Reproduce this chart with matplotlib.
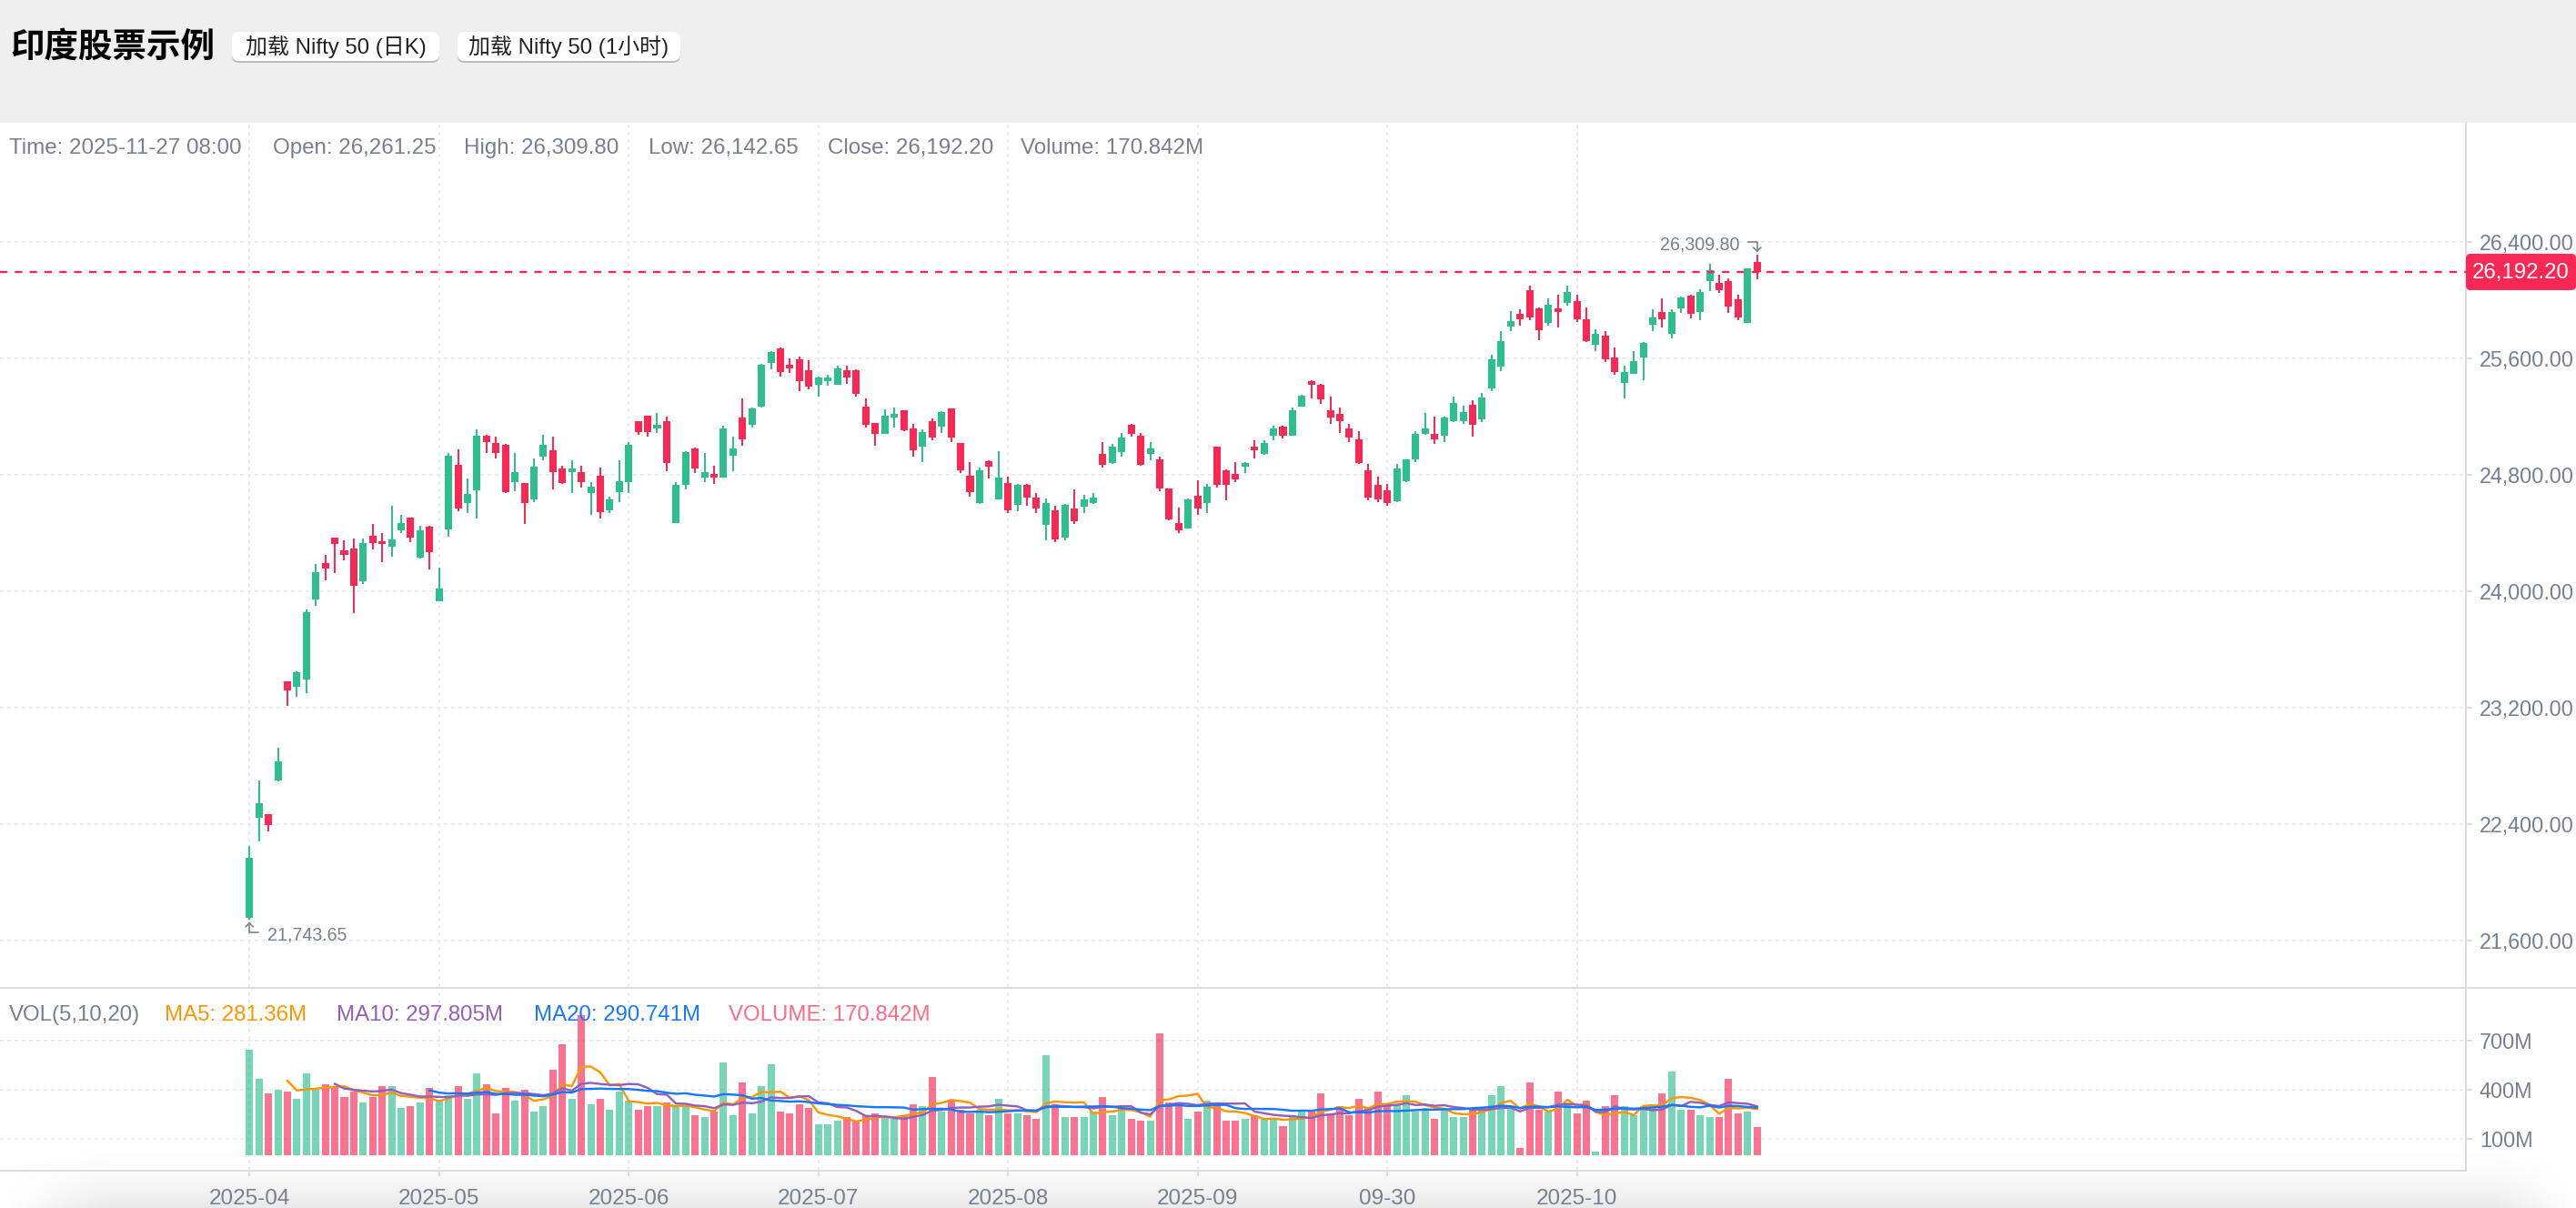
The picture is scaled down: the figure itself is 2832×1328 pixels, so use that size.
"""Nifty 50 candlestick chart with volume pane."""

import matplotlib

matplotlib.use("Agg")
import matplotlib.pyplot as plt
import numpy as np
from matplotlib.patches import FancyBboxPatch

W, H = 2832, 1328
PX = 0.72  # one pixel in points at dpi=100

UP = "#2DC08E"
DOWN = "#F92855"
TEXT = "#76808F"
AXIS = "#DDDDDD"
GRID = "#EDEDED"
MA_COLORS = ["#FF9600", "#935EBD", "#1677FF"]

opens = [
    21753, 22442, 22465, 22695, 23378, 23344, 23390, 23944, 24191, 24366,
    24280, 24291, 24067, 24380, 24340, 24305, 24417, 24504, 24228, 24440,
    23929, 24420, 24865, 24607, 24693, 25066, 25017, 25003, 24745, 24742,
    24630, 24920, 24966, 24842, 24819, 24816, 24670, 24791, 24555, 24682,
    24745, 25167, 25204, 25117, 25167, 24467, 24729, 24979, 24779, 24804,
    24779, 24929, 25192, 25142, 25267, 25567, 25667, 25554, 25592, 25517,
    25417, 25442, 25417, 25517, 25517, 25267, 25154, 25079, 25192, 25242,
    25117, 24992, 25167, 25129, 25254, 25017, 24792, 24604, 24892, 24629,
    24742, 24592, 24729, 24642, 24454, 24554, 24367, 24567, 24579, 24604,
    24942, 24879, 24954, 25142, 25067, 24942, 24904, 24704, 24467, 24429,
    24654, 24604, 24992, 24829, 24804, 24854, 24992, 24942, 25067, 25129,
    25067, 25267, 25442, 25417, 25242, 25217, 25117, 25042, 24829, 24729,
    24692, 24617, 24754, 24904, 25079, 25079, 25067, 25167, 25167, 25279,
    25179, 25392, 25542, 25817, 25904, 26067, 25942, 25842, 25942, 25979,
    25992, 25867, 25692, 25754, 25604, 25429, 25492, 25604, 25829, 25917,
    25767, 25942, 26029, 25917, 26129, 26117, 26129, 26004, 25842, 26261.25,
]
highs = [
    22247, 22698, 22468, 22922, 23378, 23447, 23872, 24185, 24248, 24366,
    24348, 24360, 24360, 24460, 24397, 24584, 24524, 24506, 24446, 24446,
    24159, 24949, 24972, 24773, 25109, 25072, 25060, 25009, 24949, 24742,
    24911, 25072, 25060, 24860, 24897, 24860, 24745, 24848, 24647, 24897,
    25023, 25167, 25204, 25223, 25198, 24746, 24960, 24985, 24948, 24860,
    25135, 25060, 25323, 25260, 25558, 25648, 25673, 25598, 25610, 25585,
    25473, 25485, 25548, 25548, 25523, 25323, 25154, 25248, 25260, 25242,
    25148, 25110, 25185, 25235, 25254, 25017, 24885, 24848, 24898, 24960,
    24785, 24735, 24735, 24673, 24635, 24585, 24598, 24698, 24660, 24673,
    25023, 25010, 25085, 25148, 25085, 25023, 24923, 24704, 24573, 24635,
    24760, 24735, 24992, 24835, 24885, 24885, 25035, 25035, 25135, 25135,
    25260, 25348, 25448, 25423, 25335, 25260, 25148, 25098, 24873, 24785,
    24735, 24873, 24904, 25098, 25223, 25198, 25198, 25335, 25273, 25310,
    25360, 25623, 25785, 25923, 25935, 26098, 25948, 26010, 26035, 26098,
    26035, 25948, 25798, 25785, 25673, 25548, 25648, 25710, 25935, 26010,
    25935, 26023, 26035, 26073, 26248, 26173, 26148, 26035, 26217, 26309.8,
]
lows = [
    21743.65, 22276, 22347, 22692, 23209, 23272, 23298, 23898, 24073, 24122,
    24211, 23846, 24050, 24285, 24196, 24234, 24400, 24334, 24222, 24148,
    23929, 24371, 24547, 24535, 24498, 24949, 24911, 24676, 24684, 24460,
    24613, 24897, 24699, 24736, 24673, 24710, 24524, 24498, 24535, 24610,
    24673, 25073, 25060, 25085, 24823, 24467, 24698, 24810, 24748, 24735,
    24779, 24823, 24998, 25123, 25260, 25523, 25473, 25498, 25373, 25385,
    25335, 25410, 25417, 25423, 25335, 25123, 24998, 25079, 25123, 25098,
    24923, 24885, 25035, 25085, 25023, 24810, 24648, 24598, 24773, 24629,
    24535, 24548, 24585, 24535, 24348, 24335, 24348, 24460, 24535, 24598,
    24848, 24873, 24923, 25060, 24860, 24898, 24685, 24485, 24398, 24429,
    24523, 24535, 24710, 24623, 24748, 24810, 24910, 24935, 25035, 25048,
    25067, 25267, 25323, 25285, 25148, 25085, 25023, 24873, 24623, 24610,
    24585, 24610, 24748, 24885, 25073, 25010, 25023, 25160, 25148, 25060,
    25160, 25373, 25510, 25785, 25823, 25860, 25723, 25823, 25810, 25960,
    25848, 25710, 25648, 25573, 25485, 25323, 25492, 25448, 25785, 25810,
    25735, 25910, 25873, 25860, 26060, 26048, 25910, 25860, 25842, 26142.65,
]
closes = [
    22167, 22540, 22393, 22827, 23318, 23441, 23855, 24127, 24156, 24320,
    24245, 24033, 24328, 24328, 24320, 24354, 24466, 24369, 24417, 24268,
    24015, 24928, 24567, 24667, 25066, 25020, 24946, 24682, 24816, 24607,
    24854, 25003, 24819, 24742, 24842, 24745, 24716, 24544, 24630, 24753,
    25003, 25092, 25092, 25142, 24879, 24729, 24954, 24842, 24817, 24779,
    25117, 24979, 25042, 25254, 25554, 25642, 25504, 25529, 25442, 25404,
    25467, 25467, 25529, 25467, 25354, 25142, 25079, 25204, 25217, 25104,
    24967, 25092, 25054, 25229, 25054, 24829, 24679, 24829, 24854, 24779,
    24554, 24729, 24642, 24567, 24604, 24354, 24592, 24479, 24629, 24642,
    24867, 24992, 25054, 25079, 24867, 24979, 24704, 24492, 24417, 24629,
    24567, 24717, 24729, 24729, 24767, 24879, 24967, 25017, 25117, 25067,
    25242, 25342, 25417, 25317, 25192, 25167, 25054, 24879, 24642, 24629,
    24604, 24842, 24904, 25079, 25117, 25042, 25192, 25292, 25229, 25142,
    25329, 25592, 25717, 25854, 25867, 25879, 25792, 25967, 25917, 26054,
    25867, 25717, 25767, 25592, 25504, 25504, 25579, 25704, 25879, 25867,
    25917, 26017, 25904, 26054, 26204, 26067, 25954, 25879, 26217, 26192.2,
]
# volumes in millions
volumes = [
    645, 466, 377, 399, 388, 344, 500, 399, 433, 411,
    355, 388, 321, 355, 422, 422, 288, 299, 321, 411,
    332, 366, 422, 344, 500, 433, 254, 411, 332, 399,
    266, 299, 522, 678, 344, 856, 310, 344, 277, 388,
    332, 277, 299, 299, 321, 299, 299, 243, 232, 266,
    567, 243, 444, 254, 422, 555, 266, 254, 310, 288,
    188, 188, 210, 232, 210, 243, 254, 232, 221, 243,
    310, 299, 477, 266, 332, 277, 254, 277, 243, 344,
    254, 254, 243, 221, 611, 310, 232, 232, 232, 266,
    355, 243, 288, 221, 210, 210, 745, 321, 321, 221,
    266, 332, 310, 210, 210, 221, 243, 221, 221, 176,
    232, 266, 266, 377, 254, 299, 243, 344, 288, 388,
    299, 310, 366, 266, 288, 221, 277, 232, 232, 288,
    288, 366, 422, 299, 43, 444, 277, 266, 388, 321,
    254, 332, 20, 299, 366, 299, 243, 299, 310, 377,
    511, 277, 277, 243, 232, 232, 466, 254, 266, 171,
]
# MA lines start at bar 4, 9 and 19
ma5 = [
    455, 395, 402, 406, 413, 417, 420, 397, 382, 366, 368, 382, 362, 357, 350, 348,
    330, 346, 370, 375, 393, 413, 391, 388, 386, 366, 332, 341, 364, 433, 422, 540,
    542, 506, 426, 435, 330, 324, 315, 319, 306, 299, 303, 292, 279, 268, 321, 310,
    350, 355, 386, 384, 388, 350, 361, 335, 261, 246, 237, 221, 206, 217, 230, 234,
    232, 239, 252, 261, 310, 319, 337, 330, 321, 281, 277, 279, 274, 274, 268, 263,
    317, 328, 323, 321, 323, 254, 263, 266, 277, 275, 263, 234, 335, 341, 361, 364,
    375, 292, 290, 268, 266, 257, 239, 221, 223, 216, 219, 223, 232, 263, 279, 292,
    288, 303, 286, 312, 312, 326, 330, 326, 306, 290, 284, 257, 250, 250, 263, 281,
    319, 333, 284, 315, 297, 266, 284, 339, 301, 312, 263, 245, 254, 263, 245, 301,
    303, 306, 348, 355, 350, 337, 308, 252, 290, 285, 290, 281,
]
ma10 = [
    436, 407, 399, 394, 389, 393, 401, 379, 369, 358, 358, 356, 354, 364, 363, 371,
    372, 368, 379, 381, 379, 373, 366, 376, 409, 394, 436, 442, 435, 430, 428, 435,
    433, 411, 373, 370, 315, 314, 303, 299, 287, 310, 307, 321, 317, 327, 353, 349,
    350, 358, 360, 322, 317, 294, 291, 270, 239, 238, 236, 227, 222, 234, 245, 272,
    276, 288, 291, 291, 296, 298, 308, 302, 298, 274, 270, 298, 301, 299, 294, 293,
    286, 296, 295, 299, 299, 259, 249, 300, 309, 318, 314, 305, 314, 316, 315, 315,
    316, 266, 256, 246, 241, 238, 231, 227, 243, 248, 256, 256, 268, 275, 296, 302,
    307, 317, 306, 309, 301, 305, 294, 288, 278, 277, 282, 288, 291, 267, 289, 289,
    293, 308, 311, 308, 305, 264, 264, 297, 282, 279, 282, 274, 280, 306, 300, 326,
    320, 307, 300, 322, 318, 314, 298,
]
ma20 = [
    397, 382, 377, 379, 376, 382, 386, 374, 374, 369, 369, 364, 360, 370, 386, 382,
    404, 405, 407, 405, 404, 404, 399, 393, 391, 382, 375, 378, 369, 364, 358, 373,
    370, 366, 345, 349, 334, 331, 327, 329, 324, 316, 312, 307, 304, 299, 296, 293,
    293, 292, 291, 278, 281, 283, 283, 279, 265, 264, 266, 262, 265, 268, 272, 273,
    273, 293, 296, 295, 295, 296, 297, 299, 296, 287, 284, 278, 275, 300, 302, 306,
    300, 300, 304, 307, 307, 287, 282, 283, 282, 282, 277, 271, 272, 271, 279, 281,
    286, 261, 262, 260, 268, 270, 269, 272, 275, 278, 278, 280, 281, 281, 287, 290,
    295, 302, 299, 288, 295, 297, 293, 298, 295, 292, 294, 276, 278, 282, 286, 284,
    287, 291, 296, 307, 302, 295, 292, 302, 291, 301, 300, 294, 291,
]

x_labels = ["2025-04", "2025-05", "2025-06", "2025-07", "2025-08", "2025-09", "09-30", "2025-10"]
price_ticks = [21600, 22400, 23200, 24000, 24800, 25600, 26400]
vol_ticks = [100, 400, 700]

info_labels = [
    ("Time: 2025-11-27 08:00", 10),
    ("Open: 26,261.25", 300),
    ("High: 26,309.80", 510),
    ("Low: 26,142.65", 713),
    ("Close: 26,192.20", 910),
    ("Volume: 170.842M", 1122),
]
vol_labels = [
    ("VOL(5,10,20)", 10, TEXT),
    ("MA5: 281.36M", 181, MA_COLORS[0]),
    ("MA10: 297.805M", 370, MA_COLORS[1]),
    ("MA20: 290.741M", 587, MA_COLORS[2]),
    ("VOLUME: 170.842M", 801, "#FF6B85"),
]

plt.rcParams["font.family"] = ["Liberation Sans", "DejaVu Sans"]

fig = plt.figure(figsize=(W / 100, H / 100), dpi=100, facecolor="white")


def pane(top, bottom):
    ax = fig.add_axes([0, (H - bottom) / H, 2711 / W, (bottom - top) / H])
    ax.patch.set_alpha(0)
    for side in ("top", "left", "bottom"):
        ax.spines[side].set_visible(False)
    ax.spines["right"].set_color(AXIS)
    ax.spines["right"].set_linewidth(2 * PX)
    ax.set_xlim(-26.31, 233.76)
    ax.yaxis.tick_right()
    ax.tick_params(axis="y", length=7 * PX, width=2 * PX, color=AXIS, labelcolor=TEXT,
                   labelsize=23.4 * PX, pad=8 * PX)
    ax.grid(True, color=GRID, linewidth=2 * PX, linestyle=(0, (2, 2)))
    ax.set_axisbelow(True)
    ax.set_xticks(np.arange(len(x_labels)) * 20)
    return ax


# page background: grey header and the soft shadow along the bottom
yy, xx = np.mgrid[0:H, 0:W]
t = np.clip((yy - 1250) / 78, 0, 1) ** 2
fade = np.clip(xx / 120, 0, 1) * np.clip((W - xx) / 90, 0, 1)
bg = 255 - 23 * t * fade
bg[:135] = 239
bg_ax = fig.add_axes([0, 0, 1, 1], zorder=-1)
bg_ax.imshow(bg, cmap="gray", vmin=0, vmax=255, aspect="auto")
bg_ax.axis("off")

ax_price = pane(135, 1085)
ax_vol = pane(1087, 1287)
ax_price.set_ylim(21279, 27217)
ax_vol.set_ylim(-96, 1018)

x = np.arange(len(closes))
o, h, l, c = map(np.array, (opens, highs, lows, closes))
colors = [UP if cv >= ov else DOWN for ov, cv in zip(opens, closes)]

# candles
ax_price.vlines(x, l, h, colors=colors, linewidth=2 * PX, zorder=3)
ax_price.bar(x, np.abs(c - o), bottom=np.minimum(o, c), width=0.77, color=colors, linewidth=0, zorder=3)
ax_price.axhline(closes[-1], color=DOWN, linewidth=2.4 * PX, linestyle=(0, (3.4, 3.4)), zorder=4)

ax_price.set_yticks(price_ticks, [f"{v:,.2f}" for v in price_ticks])
ax_price.tick_params(axis="x", length=0, labelbottom=False)

# volume pane
ax_vol.bar(x, volumes, width=0.77, color=colors, alpha=0.65, linewidth=0, zorder=2)
for values, start, color in zip((ma5, ma10, ma20), (4, 9, 19), MA_COLORS):
    ax_vol.plot(np.arange(start, start + len(values)), values, color=color, linewidth=2.4 * PX,
                solid_joinstyle="round", zorder=3)
ax_vol.set_yticks(vol_ticks, [f"{v}M" for v in vol_ticks])
ax_vol.set_xticks(np.arange(len(x_labels)) * 20, x_labels)
ax_vol.spines["bottom"].set_visible(True)
ax_vol.spines["bottom"].set_color(AXIS)
ax_vol.spines["bottom"].set_linewidth(2 * PX)
ax_vol.tick_params(axis="x", length=6 * PX, width=2 * PX, color=AXIS, labelcolor=TEXT,
                   labelsize=24.3 * PX, pad=13.7 * PX)

# overlay in pixel coordinates for page furniture and labels
ov = fig.add_axes([0, 0, 1, 1], zorder=10)
ov.set_xlim(0, W)
ov.set_ylim(H, 0)
ov.axis("off")
ov.patch.set_alpha(0)

# divider between the panes
ov.plot([0, W], [1086, 1086], color=AXIS, linewidth=2 * PX)


def to_px(ax, xv, yv):
    return ov.transData.inverted().transform(ax.transData.transform((xv, yv)))


ov.text(11, 51, "印度股票示例", fontsize=37.5 * PX, fontweight="bold", color="black", va="center",
        family=["Noto Sans CJK SC", "DejaVu Sans"])

for (left, right), label in zip([(255, 483), (503, 748)], ["加载 Nifty 50 (日K)", "加载 Nifty 50 (1小时)"]):
    for off, face in [(2, "#BDBDBD"), (0, "white")]:
        ov.add_patch(FancyBboxPatch((left, 35 + off), right - left, 32,
                                    boxstyle="round,pad=0,rounding_size=8",
                                    facecolor=face, edgecolor="none", linewidth=0))
    ov.text((left + right) / 2, 51, label, fontsize=24 * PX, color="#222222", ha="center", va="center",
            family=["Liberation Sans", "Noto Sans CJK SC"])

for label, left in info_labels:
    ov.text(left, 163, label, fontsize=24.1 * PX, color=TEXT, va="center")
for label, left, color in vol_labels:
    ov.text(left, 1116, label, fontsize=24 * PX, color=color, va="center")

# last price tag
tag_y = to_px(ax_price, 0, closes[-1])[1]
ov.add_patch(FancyBboxPatch((2711, tag_y - 20), 121, 40, boxstyle="round,pad=0,rounding_size=5",
                            facecolor=DOWN, edgecolor="none", linewidth=0))
ov.text(2771.5, tag_y + 1, f"{closes[-1]:,.2f}", fontsize=24 * PX, color="white", ha="center", va="center")

# extreme price markers
hi_i = int(np.argmax(h))
lo_i = int(np.argmin(l))
hx, hy = to_px(ax_price, hi_i, highs[hi_i])
lx, ly = to_px(ax_price, lo_i, lows[lo_i])
arrow = dict(color=TEXT, linewidth=1.6 * PX)
ov.plot([hx - 10, hx, hx], [hy - 14, hy - 14, hy - 4], **arrow)
ov.plot([hx - 4, hx, hx + 4], [hy - 8, hy - 4, hy - 8], **arrow)
ov.text(hx - 19, hy - 11, f"{highs[hi_i]:,.2f}", fontsize=19.6 * PX, color=TEXT, ha="right", va="center")
ov.plot([lx + 10, lx, lx], [ly + 14, ly + 14, ly + 4], **arrow)
ov.plot([lx - 4, lx, lx + 4], [ly + 8, ly + 4, ly + 8], **arrow)
ov.text(lx + 20, ly + 17, f"{lows[lo_i]:,.2f}", fontsize=19.6 * PX, color=TEXT, ha="left", va="center")

fig.savefig("out.png", dpi=100)
plt.close(fig)
